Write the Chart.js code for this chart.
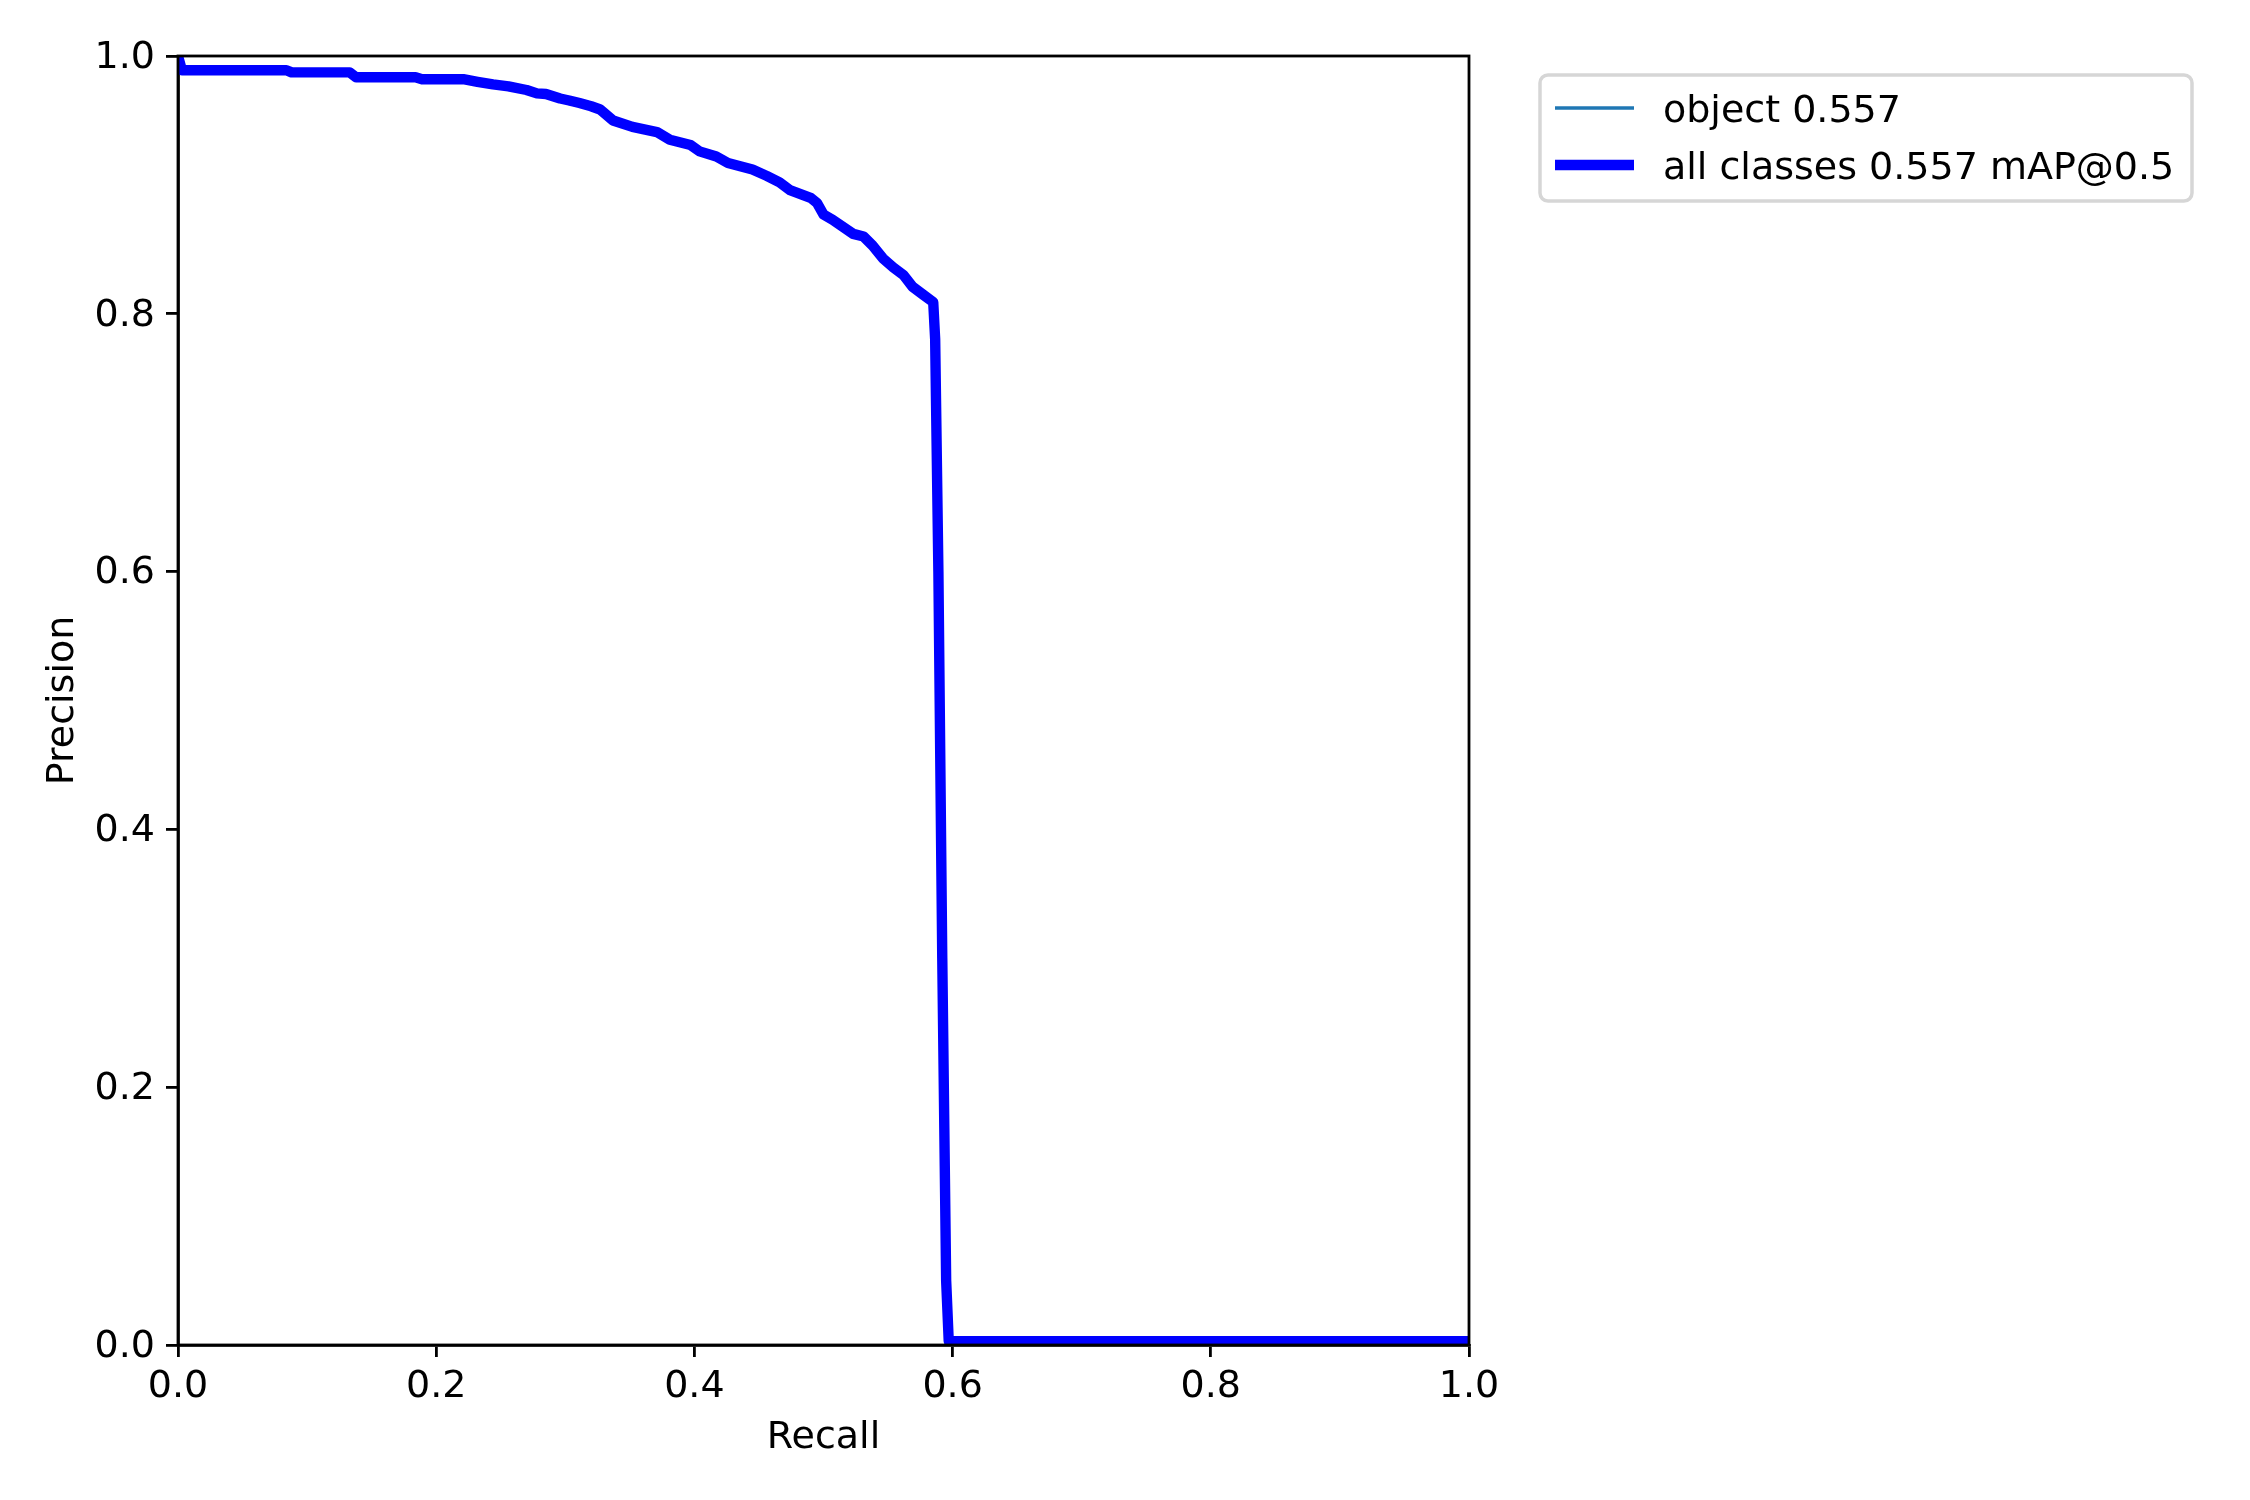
<!DOCTYPE html>
<html>
<head>
<meta charset="utf-8">
<title>PR curve</title>
<script src="https://cdn.jsdelivr.net/npm/chart.js@4.4.1/dist/chart.umd.min.js"></script>
<style>
    html, body { margin: 0; padding: 0; background: #fff; }
    #wrap { width: 2250px; height: 1500px; }
</style>
</head>
<body>
<div id="wrap"><canvas id="prChart" width="2250" height="1500"></canvas></div>
<script>
// recall / precision
const recall = [0, 0.003, 0.084, 0.088, 0.133, 0.138, 0.184, 0.189, 0.221, 0.232,
    0.244, 0.256, 0.270, 0.278, 0.285, 0.296, 0.303, 0.311, 0.320, 0.327,
    0.337, 0.352, 0.371, 0.381, 0.397, 0.404, 0.417, 0.426, 0.445, 0.456,
    0.466, 0.474, 0.490, 0.495, 0.500, 0.507, 0.523, 0.531, 0.538, 0.546,
    0.554, 0.562, 0.569, 0.577, 0.585, 0.5865, 0.589, 0.592, 0.595, 0.597, 1.0];
const precision = [1.0, 0.989, 0.989, 0.9873, 0.9873, 0.9835, 0.9835, 0.982, 0.982, 0.980,
    0.978, 0.9765, 0.9736, 0.971, 0.9705, 0.967, 0.9655, 0.9635, 0.961, 0.9585,
    0.950, 0.945, 0.941, 0.935, 0.931, 0.926, 0.922, 0.917, 0.912, 0.907,
    0.902, 0.896, 0.890, 0.886, 0.877, 0.873, 0.862, 0.860, 0.853, 0.843,
    0.836, 0.830, 0.821, 0.815, 0.809, 0.78, 0.60, 0.30, 0.05, 0.003, 0.003];
const tickValues = [0, 0.2, 0.4, 0.6, 0.8, 1.0];
const seriesLabels = ['object 0.557', 'all classes 0.557 mAP@0.5'];

const FONT = '"DejaVu Sans", sans-serif';

function buildPoints() {
    return recall.map((r, i) => ({ x: r, y: precision[i] }));
}

// frame on top of the lines + matplotlib style legend
const framePlugin = {
    id: 'frameAndLegend',
    afterDatasetsDraw(chart) {
        const ctx = chart.ctx;
        const a = chart.chartArea;
        ctx.save();
        ctx.strokeStyle = '#000';
        ctx.lineWidth = 2.8;
        ctx.strokeRect(a.left, a.top, a.right - a.left, a.bottom - a.top);

        // legend box
        const lx = 1540, ly = 75, lw = 652, lh = 126, rad = 8;
        ctx.beginPath();
        ctx.moveTo(lx + rad, ly);
        ctx.arcTo(lx + lw, ly, lx + lw, ly + lh, rad);
        ctx.arcTo(lx + lw, ly + lh, lx, ly + lh, rad);
        ctx.arcTo(lx, ly + lh, lx, ly, rad);
        ctx.arcTo(lx, ly, lx + lw, ly, rad);
        ctx.closePath();
        ctx.fillStyle = 'rgba(255,255,255,0.8)';
        ctx.fill();
        ctx.strokeStyle = '#d6d6d6';
        ctx.lineWidth = 3.5;
        ctx.stroke();

        const rows = [108, 165];
        ctx.font = '38px ' + FONT;
        ctx.textBaseline = 'middle';
        ctx.textAlign = 'left';
        chart.data.datasets.forEach((ds, i) => {
            ctx.beginPath();
            ctx.strokeStyle = ds.borderColor;
            ctx.lineWidth = ds.borderWidth;
            ctx.lineCap = 'butt';
            ctx.moveTo(1555, rows[i]);
            ctx.lineTo(1634, rows[i]);
            ctx.stroke();
            ctx.fillStyle = '#000';
            ctx.fillText(ds.label, 1663, rows[i] + 4);
        });
        ctx.restore();
    }
};

function initChart() {
    const ctx = document.getElementById('prChart').getContext('2d');
    const points = buildPoints();

    const axisCommon = {
        type: 'linear',
        min: 0,
        max: 1,
        afterBuildTicks: function(scale) {
            scale.ticks = tickValues.map(v => ({ value: v }));
        },
        ticks: {
            color: '#000',
            font: { family: FONT, size: 38 },
            callback: v => Number(v).toFixed(1),
            maxRotation: 0,
            autoSkip: false
        },
        grid: {
            display: true,
            drawOnChartArea: false,
            drawTicks: true,
            tickLength: 12,
            color: '#000',
            lineWidth: 2.8
        },
        border: { display: true, color: '#000', width: 2.8 }
    };

    new Chart(ctx, {
        type: 'line',
        data: {
            datasets: [
                {
                    label: seriesLabels[0],
                    data: points,
                    borderColor: '#1f77b4',
                    borderWidth: 3.5,
                    pointRadius: 0,
                    tension: 0,
                    fill: false,
                    clip: 0,
                    order: 1,
                    borderJoinStyle: 'round'
                },
                {
                    label: seriesLabels[1],
                    data: points,
                    borderColor: '#0000ff',
                    borderWidth: 10.4,
                    pointRadius: 0,
                    tension: 0,
                    fill: false,
                    clip: 0,
                    order: 0,
                    borderJoinStyle: 'round'
                }
            ]
        },
        options: {
            responsive: false,
            animation: false,
            devicePixelRatio: 1,
            layout: {
                padding: { left: 0, top: 56, right: 781, bottom: 0 }
            },
            plugins: {
                legend: { display: false },
                tooltip: { enabled: false },
                title: { display: false }
            },
            scales: {
                x: Object.assign({}, axisCommon, {
                    position: 'bottom',
                    ticks: Object.assign({}, axisCommon.ticks, { padding: 7 }),
                    title: {
                        display: true,
                        text: 'Recall',
                        color: '#000',
                        font: { family: FONT, size: 38 },
                        padding: { top: 0, bottom: 39 }
                    },
                    afterFit: function(scale) { scale.height = 155; }
                }),
                y: Object.assign({}, axisCommon, {
                    position: 'left',
                    ticks: Object.assign({}, axisCommon.ticks, { padding: 11, labelOffset: 2 }),
                    title: {
                        display: true,
                        text: 'Precision',
                        color: '#000',
                        font: { family: FONT, size: 38 },
                        padding: { top: 40, bottom: 0 }
                    },
                    afterFit: function(scale) { scale.width = 178; }
                })
            }
        },
        plugins: [framePlugin]
    });
}

document.addEventListener('DOMContentLoaded', initChart);
</script>
</body>
</html>
